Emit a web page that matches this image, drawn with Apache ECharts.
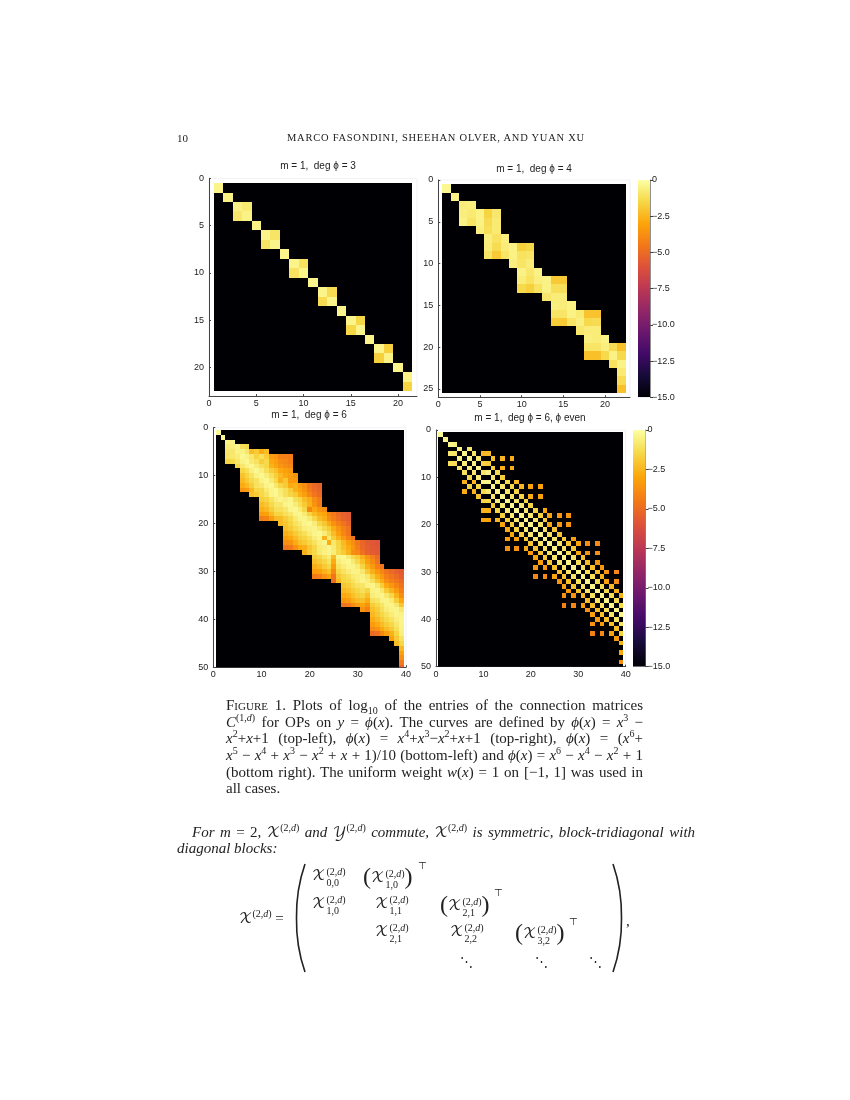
<!DOCTYPE html>
<html>
<head>
<meta charset="utf-8">
<title>Connection matrices</title>
<script src="https://cdn.jsdelivr.net/npm/echarts@6/dist/echarts.min.js"></script>
<style>
html, body { margin: 0; padding: 0; background: #fff; }
#chart { position: absolute; left: 0; top: 0; width: 850px; height: 1100px; }
#page { position: absolute; left: 0; top: 0; width: 850px; height: 1100px; pointer-events: none; color: #222;
  font-family: "Liberation Serif", serif; font-size: 15px; }
#page .t { position: absolute; white-space: nowrap; transform: translateY(-50%); line-height: 1; }
#page .j { white-space: normal; text-align: justify; text-align-last: justify; }
#page sup, #page sub { font-size: 10px; line-height: 0; }
#page i { font-style: italic; }
.stack { display: inline-flex; flex-direction: column; vertical-align: middle; font-size: 10px; line-height: 11px; margin-left: 1px; font-style: normal; }
.cal { font-family: "DejaVu Math TeX Gyre", "DejaVu Sans", serif; font-size: 14px; }
.par { font-size: 24px; font-weight: 200; vertical-align: -2px; }
</style>
</head>
<body>
<div id="chart"></div>
<div id="page"></div>
<script>
// x/y ticks for each panel
const xTicks1 = [0, 5, 10, 15, 20]
const yTicks1 = [0, 5, 10, 15, 20]
const xTicks2 = [0, 5, 10, 15, 20]
const yTicks2 = [0, 5, 10, 15, 20, 25]
const xTicks3 = [0, 10, 20, 30, 40]
const yTicks3 = [0, 10, 20, 30, 40, 50]
const colorTicks = [0, -2.5, -5, -7.5, -10, -12.5, -15]

const panelTitles = ['m = 1,  deg ϕ = 3', 'm = 1,  deg ϕ = 4', 'm = 1,  deg ϕ = 6', 'm = 1,  deg ϕ = 6, ϕ even']

// value of a zero entry after log10 clipping
const floorValue = -15

// each row: first column, then the values from that column on
const panel1Rows = [
  [1, -0.4], [2, -0.5], [3, -0.5, -0.8], [3, -0.9, -0.5], [5, -0.5],
  [6, -0.4, -1.0], [6, -1.0, -0.4], [8, -0.4], [9, -0.4, -1.1], [9, -1.1, -0.4],
  [11, -0.4], [12, -0.4, -1.3], [12, -1.3, -0.4], [14, -0.4], [15, -0.4, -1.5],
  [15, -1.5, -0.4], [17, -0.4], [18, -0.4, -1.7], [18, -1.7, -0.5], [20, -0.4],
  [21, -0.5], [21, -1.6]
]

const panel2Rows = [
  [1, -0.3],
  [2, -0.5],
  [3, -0.7, -0.6],
  [3, -0.6, -0.8, -0.5, -1.6, -0.9],
  [3, -0.5, -1.0, -0.5, -1.3, -0.8],
  [5, -0.6, -1.2, -0.8],
  [6, -0.6, -1.1, -0.6],
  [6, -0.7, -1.3, -0.7, -0.5, -1.7, -1.5],
  [6, -1.0, -1.9, -1.0, -0.5, -1.1, -1.0],
  [9, -0.6, -1.0, -0.7],
  [10, -0.5, -0.9, -0.5],
  [10, -0.7, -1.1, -0.6, -0.5, -1.9, -1.9],
  [10, -1.4, -1.7, -1.1, -0.5, -1.2, -1.2],
  [13, -0.9, -0.7, -0.7],
  [14, -0.6, -0.7, -0.5],
  [14, -1.0, -1.0, -0.5, -0.8, -2.1, -2.1],
  [14, -1.8, -1.9, -1.0, -0.6, -1.4, -1.3],
  [17, -0.9, -0.7, -0.7],
  [18, -0.6, -0.7, -0.5],
  [18, -1.0, -1.0, -0.6, -1.3, -2.2],
  [18, -2.2, -2.2, -1.4, -0.5, -1.4],
  [21, -1.1, -0.5],
  [22, -0.8],
  [22, -1.3],
  [22, -2.2]
]

const panel3Rows = [
  [1, -0.2],
  [2, -0.3],
  [3, -0.4, -0.5],
  [3, -0.7, -0.6, -0.4, -1.2, -1.4],
  [3, -0.9, -0.9, -0.5, -0.5, -0.9, -2.3, -1.9, -2.8, -2.3],
  [3, -1.0, -0.9, -0.7, -0.3, -0.5, -0.9, -1.6, -1.2, -1.8, -3.3, -3.5, -4.2, -4.3, -4.4],
  [3, -1.6, -1.4, -1.0, -0.5, -0.3, -0.8, -1.1, -1.8, -1.4, -2.9, -3.2, -3.8, -4.0, -4.3],
  [5, -1.5, -0.9, -0.5, -0.3, -0.7, -1.2, -1.5, -2.6, -3.0, -3.5, -3.8, -4.0],
  [6, -1.5, -1.2, -0.6, -0.3, -0.6, -1.2, -1.8, -2.2, -2.9, -3.2, -3.4],
  [6, -2.1, -1.6, -1.1, -0.5, -0.3, -0.7, -1.2, -1.8, -2.4, -2.9, -3.2, -3.6],
  [6, -2.4, -1.9, -1.4, -1.1, -0.5, -0.3, -0.8, -1.4, -2.6, -2.0, -3.3, -3.4],
  [6, -2.8, -2.4, -1.8, -1.1, -0.9, -0.4, -0.3, -0.9, -1.5, -1.9, -2.8, -2.6, -3.3, -3.8, -4.6, -5.0, -5.3],
  [6, -3.6, -3.3, -2.4, -1.5, -1.4, -0.8, -0.4, -0.3, -0.8, -1.2, -1.8, -2.6, -3.0, -3.6, -4.4, -4.9, -5.2],
  [8, -2.2, -1.9, -1.4, -1.1, -0.4, -0.3, -0.7, -1.2, -1.6, -1.9, -2.7, -3.2, -4.0, -4.6, -5.0],
  [10, -1.8, -1.6, -1.1, -0.6, -0.4, -0.6, -0.4, -1.2, -1.5, -2.3, -2.8, -3.8, -4.4],
  [10, -2.3, -2.0, -1.4, -0.9, -0.9, -0.4, -0.3, -0.7, -1.2, -1.9, -2.6, -3.6, -4.4],
  [10, -2.7, -2.4, -1.8, -1.2, -1.2, -0.9, -0.4, -0.3, -0.7, -1.5, -4.0, -2.9, -3.5, -3.8],
  [10, -3.3, -3.1, -2.3, -1.6, -1.6, -1.2, -0.9, -0.4, -0.3, -0.8, -1.6, -2.3, -2.8, -3.0, -4.1, -4.5, -5.0, -5.4, -5.6],
  [10, -4.3, -4.1, -3.3, -2.4, -2.3, -1.8, -1.4, -0.8, -0.4, -0.4, -0.8, -1.5, -2.3, -2.7, -3.8, -4.3, -4.8, -5.3, -5.5],
  [14, -2.3, -2.0, -1.6, -1.1, -0.8, -0.4, -0.3, -0.7, -1.5, -2.0, -2.8, -3.6, -4.2, -4.7, -5.2],
  [15, -2.2, -1.9, -1.4, -1.1, -0.6, -0.5, -0.4, -0.8, -1.4, -1.9, -2.8, -3.5, -4.2, -4.7],
  [15, -2.7, -2.4, -1.9, -1.5, -1.2, -0.7, -0.4, -0.3, -0.7, -1.4, -2.3, -3.2, -4.0, -4.6],
  [15, -3.2, -2.9, -2.3, -1.8, -1.6, -1.2, -0.7, -0.4, -2.6, -0.8, -1.8, -2.6, -3.4, -4.2, -4.7],
  [15, -3.8, -3.6, -2.8, -2.2, -1.9, -1.5, -1.1, -0.6, -0.4, -2.8, -0.9, -1.6, -2.4, -3.2, -3.8, -4.5, -5.2, -5.6, -5.8, -5.9],
  [15, -4.7, -4.5, -3.7, -2.9, -2.7, -2.0, -1.5, -0.8, -0.6, -0.4, -0.8, -1.5, -2.2, -2.8, -3.5, -4.3, -5.1, -5.5, -5.7, -5.8],
  [19, -2.6, -1.9, -1.4, -0.8, -0.5, -0.4, -0.7, -1.4, -1.9, -2.6, -3.8, -4.0, -4.8, -5.4, -5.6, -5.7],
  [21, -1.8, -1.5, -1.1, -0.7, -2.3, -0.4, -0.3, -0.8, -1.4, -1.9, -2.7, -3.6, -4.3, -5.0],
  [21, -2.2, -1.9, -1.5, -1.1, -2.8, -0.7, -0.4, -0.3, -0.8, -1.4, -2.2, -3.2, -3.9, -4.7],
  [21, -2.7, -2.4, -1.9, -1.5, -3.3, -1.1, -0.7, -0.4, -0.4, -0.8, -1.6, -2.6, -3.4, -4.2, -4.6],
  [21, -3.3, -3.1, -2.6, -2.2, -3.9, -1.5, -1.1, -0.7, -0.5, -0.5, -0.9, -1.9, -2.7, -3.4, -4.0, -4.7, -5.0, -5.4, -5.7],
  [21, -4.5, -4.3, -3.7, -3.1, -4.7, -2.0, -1.5, -1.2, -0.8, -0.6, -0.5, -0.9, -1.8, -2.7, -3.4, -4.2, -4.6, -5.0, -5.5],
  [25, -4.9, -2.4, -1.6, -1.4, -1.1, -0.7, -0.4, -0.6, -1.2, -2.0, -2.8, -3.8, -4.2, -4.6, -5.0],
  [27, -2.0, -1.8, -1.4, -1.1, -1.0, -0.5, -0.4, -0.9, -1.8, -2.9, -3.5, -4.1, -4.7],
  [27, -2.4, -2.2, -1.8, -1.5, -1.2, -1.6, -0.5, -0.4, -0.9, -1.9, -2.6, -3.4, -4.3],
  [27, -2.9, -2.7, -2.2, -1.8, -1.6, -2.2, -0.7, -0.5, -0.4, -0.9, -1.5, -2.6, -3.8],
  [27, -3.5, -3.3, -2.7, -2.3, -2.2, -2.8, -1.2, -1.0, -0.5, -0.4, -0.8, -1.8, -2.9],
  [27, -4.7, -4.5, -3.8, -3.3, -3.0, -3.6, -1.8, -1.4, -1.0, -0.5, -0.4, -0.9, -2.0],
  [31, -3.6, -4.2, -2.2, -1.8, -1.2, -0.7, -0.5, -0.4, -0.9],
  [33, -2.4, -2.0, -1.5, -1.1, -0.7, -0.4, -0.5],
  [33, -2.8, -2.4, -1.9, -1.4, -1.1, -0.6, -0.4],
  [33, -3.3, -2.9, -2.3, -1.8, -1.5, -0.9, -0.4],
  [33, -3.9, -3.6, -2.9, -2.3, -1.9, -1.2, -0.5],
  [33, -5.0, -4.8, -4.0, -3.2, -2.6, -1.6, -0.6],
  [37, -3.2, -1.9, -1.1],
  [38, -2.3, -1.5],
  [39, -2.5],
  [39, -3.1],
  [39, -3.7],
  [39, -4.4],
  [39, -5.2]
]

// checkerboard panel: column, value, column, value ... for every row
const panel4Rows = [
  [1, -0.2],
  [2, -0.4],
  [3, -0.4, 4, -0.6],
  [5, -0.5, 7, -0.9],
  [3, -0.9, 4, -1.0, 6, -0.4, 8, -1.0, 10, -2.4, 11, -2.3],
  [5, -0.5, 7, -0.4, 9, -0.9, 12, -2.2, 14, -2.5, 16, -2.8],
  [3, -1.2, 4, -1.3, 6, -0.7, 8, -0.5, 10, -1.6, 11, -1.8],
  [5, -1.0, 7, -0.7, 9, -0.4, 12, -1.8, 14, -2.6, 16, -2.7],
  [6, -1.2, 8, -0.9, 10, -1.0, 11, -0.5, 13, -1.3],
  [7, -1.4, 9, -0.7, 12, -0.9, 14, -1.8],
  [6, -2.6, 8, -2.4, 10, -0.5, 11, -0.4, 13, -0.8, 15, -1.4, 17, -2.5],
  [7, -1.6, 9, -1.5, 12, -0.4, 14, -0.9, 16, -1.5, 18, -2.5, 20, -3.0, 22, -3.1],
  [6, -2.8, 8, -2.6, 10, -1.4, 11, -0.8, 13, -0.4, 15, -1.0, 17, -1.6],
  [9, -2.1, 12, -0.9, 14, -0.4, 16, -1.0, 18, -1.6, 20, -2.8, 22, -3.1],
  [10, -1.6, 11, -1.4, 13, -0.7, 15, -0.4, 17, -0.9, 19, -1.5],
  [12, -1.8, 14, -0.8, 16, -0.3, 18, -0.9, 20, -1.6],
  [10, -2.6, 11, -2.6, 13, -1.6, 15, -0.8, 17, -0.3, 19, -0.9, 21, -1.6, 23, -3.0],
  [14, -1.7, 16, -0.8, 18, -0.4, 20, -0.9, 22, -1.7, 24, -3.0, 26, -3.5, 28, -3.6],
  [10, -3.0, 11, -3.0, 13, -2.5, 15, -1.7, 17, -0.8, 19, -0.4, 21, -1.0, 23, -1.8],
  [14, -3.0, 16, -1.8, 18, -0.8, 20, -0.4, 22, -1.0, 24, -3.0, 26, -3.4, 28, -3.5],
  [15, -2.8, 17, -1.6, 19, -0.8, 21, -0.4, 23, -1.1, 25, -2.0],
  [16, -3.0, 18, -1.8, 20, -0.9, 22, -0.4, 24, -1.2, 26, -2.1],
  [15, -3.2, 17, -3.1, 19, -1.9, 21, -0.9, 23, -0.4, 25, -1.0, 27, -1.9, 29, -3.2],
  [20, -2.0, 22, -1.0, 24, -0.4, 26, -1.1, 28, -2.0, 30, -3.0, 32, -3.8, 34, -3.9],
  [15, -3.8, 17, -3.7, 19, -2.8, 21, -2.0, 23, -1.0, 25, -0.5, 27, -1.1, 29, -2.0],
  [20, -3.4, 22, -2.0, 24, -1.0, 26, -0.4, 28, -1.1, 30, -2.9, 32, -3.6, 34, -3.8],
  [21, -3.0, 23, -1.9, 25, -0.9, 27, -0.4, 29, -1.1, 31, -2.2],
  [22, -3.2, 24, -2.0, 26, -1.0, 28, -0.4, 30, -1.2, 32, -2.3, 34, -3.6],
  [21, -3.5, 23, -3.4, 25, -2.2, 27, -1.0, 29, -0.5, 31, -1.2, 33, -2.2, 35, -3.5],
  [26, -2.2, 28, -1.0, 30, -0.4, 32, -1.2, 34, -2.2, 36, -3.6, 38, -4.0],
  [21, -4.0, 23, -3.9, 25, -3.0, 27, -2.1, 29, -1.0, 31, -0.4, 33, -1.2, 35, -2.6],
  [26, -3.6, 28, -2.2, 30, -1.1, 32, -0.4, 34, -1.3, 36, -3.2, 38, -3.9],
  [27, -3.1, 29, -2.0, 31, -1.0, 33, -0.4, 35, -1.3, 37, -2.4],
  [28, -3.4, 30, -2.1, 32, -1.0, 34, -0.4, 36, -1.4, 38, -2.6],
  [27, -3.7, 29, -3.6, 31, -2.3, 33, -1.1, 35, -0.4, 37, -1.3, 39, -2.6],
  [32, -2.3, 34, -1.1, 36, -0.4, 38, -1.3],
  [27, -4.2, 29, -4.0, 31, -3.2, 33, -2.2, 35, -1.0, 37, -0.4, 39, -1.4],
  [32, -3.8, 34, -2.3, 36, -1.1, 38, -0.4],
  [33, -3.2, 35, -2.2, 37, -1.0, 39, -0.4],
  [34, -3.3, 36, -2.2, 38, -1.0],
  [33, -3.6, 35, -3.4, 37, -2.2, 39, -1.0],
  [38, -2.2],
  [33, -4.2, 35, -3.9, 37, -3.0, 39, -1.6],
  [38, -3.4],
  [39, -2.6],
  [],
  [39, -2.9],
  [],
  [39, -3.8]
]

// inferno colormap
const inferno = ['#000004', '#160b39', '#420a68', '#6a176e', '#932667', '#bc3754', '#dd513a', '#f37819', '#fca50a', '#f6d746', '#fcffa4']

// unlisted cells are zero entries and sit on the floor of the scale
function denseCells(rows, nCols, nRows) {
  const cells = {}
  rows.forEach((row, i) => {
    row.slice(1).forEach((v, j) => { cells[(i + 1) + '_' + (row[0] + j)] = v })
  })
  return fillFloor(cells, nCols, nRows)
}

function sparseCells(rows, nCols, nRows) {
  const cells = {}
  rows.forEach((row, i) => {
    for (let j = 0; j < row.length; j += 2) cells[(i + 1) + '_' + row[j]] = row[j + 1]
  })
  return fillFloor(cells, nCols, nRows)
}

function fillFloor(cells, nCols, nRows) {
  const out = []
  for (let r = 1; r <= nRows; r++) {
    for (let c = 1; c <= nCols; c++) {
      const v = cells[r + '_' + c]
      out.push([c, r, v === undefined ? floorValue : v])
    }
  }
  return out
}

function renderCell(params, api) {
  const c = api.value(0)
  const r = api.value(1)
  // snapped to whole pixels so no seams show between cells
  const a = api.coord([c - 0.5, r - 0.5]).map(Math.round)
  const b = api.coord([c + 0.5, r + 0.5]).map(Math.round)
  return {
    type: 'rect',
    shape: { x: a[0], y: a[1], width: b[0] - a[0], height: b[1] - a[1] },
    style: { fill: api.visual('color') }
  }
}

function renderColorbar(params, api) {
  const a = api.coord([0, api.value(1)])
  const b = api.coord([1, api.value(0)])
  const stops = inferno.map((color, i) => ({ offset: i / (inferno.length - 1), color }))
  return {
    type: 'rect',
    shape: { x: a[0], y: a[1], width: b[0] - a[0], height: b[1] - a[1] },
    style: { fill: new echarts.graphic.LinearGradient(0, 1, 0, 0, stops) }
  }
}

const axisColor = '#444'
const tickFont = { color: '#222', fontSize: 9, fontFamily: 'Liberation Sans' }

function xAxisFor(gridIndex, max, ticks) {
  return {
    type: 'value', gridIndex, min: 0, max, position: 'bottom',
    splitLine: { show: false },
    axisLine: { onZero: false, lineStyle: { color: axisColor, width: 1 } },
    axisTick: { inside: true, length: 2, customValues: ticks, lineStyle: { color: axisColor } },
    axisLabel: { ...tickFont, margin: 3, customValues: ticks }
  }
}

function yAxisFor(gridIndex, max, ticks) {
  return {
    type: 'value', gridIndex, min: 0, max, inverse: true, position: 'left',
    splitLine: { show: false },
    axisLine: { onZero: false, lineStyle: { color: axisColor, width: 1 } },
    axisTick: { inside: true, length: 2, customValues: ticks, lineStyle: { color: axisColor } },
    axisLabel: { ...tickFont, margin: 5, customValues: ticks }
  }
}

function colorbarXAxis(gridIndex) {
  return { type: 'value', gridIndex, min: 0, max: 1, show: false }
}

function colorbarYAxis(gridIndex) {
  return {
    type: 'value', gridIndex, min: floorValue, max: 0, position: 'right',
    splitLine: { show: false },
    axisLine: { onZero: false, lineStyle: { color: axisColor, width: 0.6 } },
    axisTick: { length: 3, customValues: colorTicks, lineStyle: { color: axisColor } },
    axisLabel: {
      ...tickFont, margin: 2, customValues: colorTicks,
      formatter: v => v === 0 ? '0' : v.toFixed(1).replace('-', '\u2212')
    }
  }
}

function panelTitle(text, x, y) {
  return {
    text, left: x, top: y, textAlign: 'center', padding: 0,
    textStyle: { color: '#222', fontSize: 10, fontWeight: 'normal', fontFamily: 'Liberation Sans' }
  }
}

function cellSeries(index, data) {
  return { type: 'custom', xAxisIndex: index, yAxisIndex: index, coordinateSystem: 'cartesian2d', clip: true,
    renderItem: renderCell, encode: { x: 0, y: 1 }, data, silent: true }
}

function colorbarSeries(index) {
  return { type: 'custom', xAxisIndex: index, yAxisIndex: index, coordinateSystem: 'cartesian2d', clip: true,
    renderItem: renderColorbar, encode: { y: [0, 1] }, data: [[floorValue, 0]], silent: true }
}

const frame = { show: true, borderColor: '#f2f2f2', borderWidth: 1, backgroundColor: 'transparent' }

const chart = echarts.init(document.getElementById('chart'))
chart.setOption({
  animation: false,
  backgroundColor: '#fff',
  title: [
    panelTitle(panelTitles[0], 318, 161),
    panelTitle(panelTitles[1], 534, 164),
    panelTitle(panelTitles[2], 309, 410),
    panelTitle(panelTitles[3], 530, 413)
  ],
  grid: [
    { left: 209, top: 178.3, width: 208, height: 217.8, ...frame },
    { left: 438.3, top: 180, width: 191.7, height: 217.3, ...frame },
    { left: 213.3, top: 427.7, width: 192.7, height: 239.6, ...frame },
    { left: 436, top: 430, width: 189.7, height: 236.7, ...frame },
    { left: 638, top: 180, width: 12, height: 217.3 },
    { left: 633, top: 430, width: 12.5, height: 236.7 }
  ],
  xAxis: [
    xAxisFor(0, 22, xTicks1),
    xAxisFor(1, 23, xTicks2),
    xAxisFor(2, 40, xTicks3),
    xAxisFor(3, 40, xTicks3),
    colorbarXAxis(4),
    colorbarXAxis(5)
  ],
  yAxis: [
    yAxisFor(0, 23, yTicks1),
    yAxisFor(1, 26, yTicks2),
    yAxisFor(2, 50, yTicks3),
    yAxisFor(3, 50, yTicks3),
    colorbarYAxis(4),
    colorbarYAxis(5)
  ],
  visualMap: {
    show: false, type: 'continuous', seriesIndex: [0, 1, 2, 3], dimension: 2,
    min: floorValue, max: 0, inRange: { color: inferno }
  },
  series: [
    cellSeries(0, denseCells(panel1Rows, 21, 22)),
    cellSeries(1, denseCells(panel2Rows, 22, 25)),
    cellSeries(2, denseCells(panel3Rows, 39, 50)),
    cellSeries(3, sparseCells(panel4Rows, 39, 50)),
    colorbarSeries(4),
    colorbarSeries(5)
  ]
})

// page text around the figure
const calX = '<span class="cal">\uD835\uDCB3</span>'
const calY = '<span class="cal">\uD835\uDCB4</span>'
const sup2d = '<sup>(2,<i>d</i>)</sup>'
function entry(sub) {
  return calX + '<span class="stack"><span>(2,<i>d</i>)</span><span>' + sub + '</span></span>'
}
function bracketed(sub) {
  return '<span class="par">(</span>' + entry(sub) + '<span class="par">)</span>'
}
const phi = '<i>ϕ</i>(<i>x</i>)'

const pageLines = [
  { x: 177, y: 138, html: '10', size: 11 },
  { x: 287, y: 138, html: 'MARCO FASONDINI, SHEEHAN OLVER, AND YUAN XU', size: 10.5, spacing: 0.75 },
  { x: 226, y: 705, w: 417, html: '<span style="font-variant:small-caps">Figure 1.</span> Plots of log<sub>10</sub> of the entries of the connection matrices' },
  { x: 226, y: 722, w: 417, html: '<i>C</i><sup>(1,<i>d</i>)</sup> for OPs on <i>y</i> = ' + phi + '. The curves are defined by ' + phi + ' = <i>x</i><sup>3</sup> −' },
  { x: 226, y: 738, w: 417, html: '<i>x</i><sup>2</sup>+<i>x</i>+1 (top-left), ' + phi + ' = <i>x</i><sup>4</sup>+<i>x</i><sup>3</sup>−<i>x</i><sup>2</sup>+<i>x</i>+1 (top-right), ' + phi + ' = (<i>x</i><sup>6</sup>+' },
  { x: 226, y: 755, w: 417, html: '<i>x</i><sup>5</sup> − <i>x</i><sup>4</sup> + <i>x</i><sup>3</sup> − <i>x</i><sup>2</sup> + <i>x</i> + 1)/10 (bottom-left) and ' + phi + ' = <i>x</i><sup>6</sup> − <i>x</i><sup>4</sup> − <i>x</i><sup>2</sup> + 1' },
  { x: 226, y: 772, w: 417, html: '(bottom right). The uniform weight <i>w</i>(<i>x</i>) = 1 on [−1, 1] was used in' },
  { x: 226, y: 788, html: 'all cases.' },
  { x: 192, y: 832, w: 503, html: '<i>For m</i> = 2, ' + calX + sup2d + ' <i>and</i> ' + calY + sup2d + ' <i>commute,</i> ' + calX + sup2d + ' <i>is symmetric, block-tridiagonal with</i>' },
  { x: 177, y: 848, html: '<i>diagonal blocks:</i>' },
  { x: 239, y: 918, html: calX + sup2d + ' =' },
  { x: 312, y: 877, html: entry('0,0') },
  { x: 363, y: 877, html: bracketed('1,0') },
  { x: 418, y: 866, html: '⊤', size: 10 },
  { x: 312, y: 905, html: entry('1,0') },
  { x: 375, y: 905, html: entry('1,1') },
  { x: 440, y: 905, html: bracketed('2,1') },
  { x: 494, y: 893, html: '⊤', size: 10 },
  { x: 375, y: 933, html: entry('2,1') },
  { x: 450, y: 933, html: entry('2,2') },
  { x: 515, y: 933, html: bracketed('3,2') },
  { x: 569, y: 922, html: '⊤', size: 10 },
  { x: 460, y: 961, html: '⋱', size: 13 },
  { x: 535, y: 961, html: '⋱', size: 13 },
  { x: 589, y: 961, html: '⋱', size: 13 },
  { x: 626, y: 921, html: ',' }
]

const page = document.getElementById('page')
pageLines.forEach(line => {
  const el = document.createElement('div')
  el.className = line.w ? 't j' : 't'
  el.style.left = line.x + 'px'
  el.style.top = line.y + 'px'
  if (line.w) el.style.width = line.w + 'px'
  if (line.size) el.style.fontSize = line.size + 'px'
  if (line.spacing) el.style.letterSpacing = line.spacing + 'px'
  el.innerHTML = line.html
  page.appendChild(el)
})

// big matrix brackets
page.insertAdjacentHTML('beforeend',
  '<svg width="850" height="1100" style="position:absolute;left:0;top:0">' +
  '<path d="M305 864 Q296 890 296.5 918 Q296 946 305 972" fill="none" stroke="#222" stroke-width="1.6"/>' +
  '<path d="M613 864 Q622 890 621.5 918 Q622 946 613 972" fill="none" stroke="#222" stroke-width="1.6"/>' +
  '</svg>')
</script>
</body>
</html>
